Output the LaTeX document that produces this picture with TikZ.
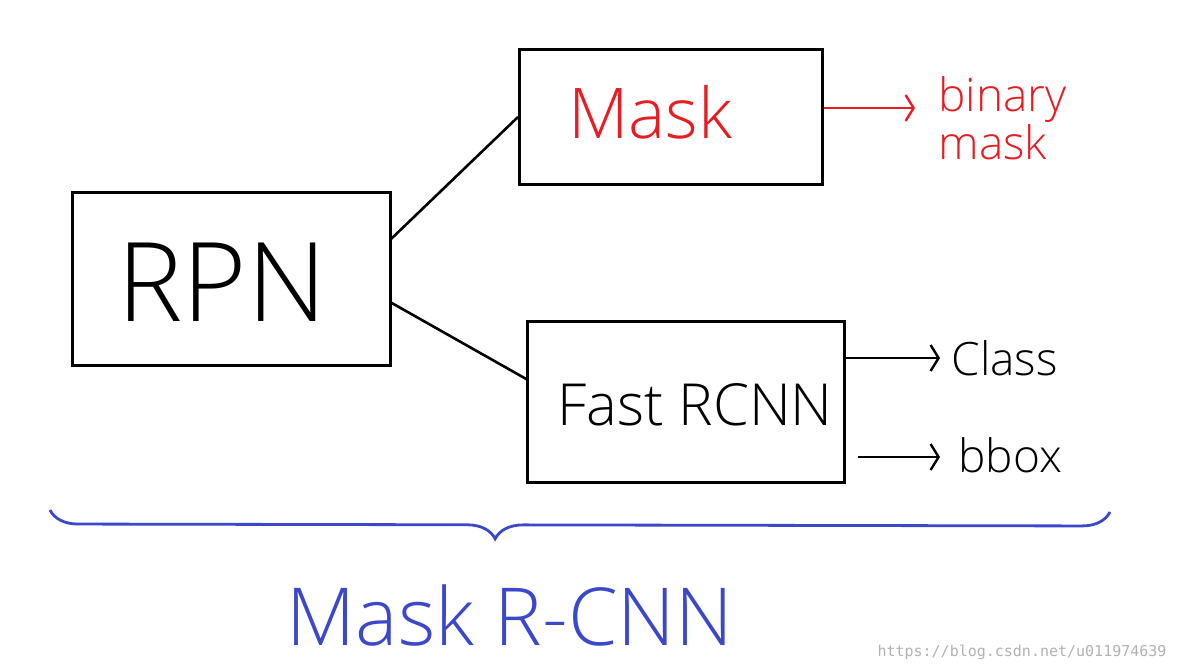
\documentclass[tikz,border=0pt]{standalone}
\usepackage{fontspec}
\setmainfont{Open Sans Light}
\newfontfamily\wm{DejaVu Sans Mono}
\usetikzlibrary{decorations.pathreplacing,arrows.meta}
\definecolor{hred}{RGB}{230,30,36}
\definecolor{hblue}{RGB}{60,72,204}
\begin{document}
\begin{tikzpicture}[x=1pt,y=-1pt,
  box/.style={draw,line width=3pt,inner sep=0pt},
  wire/.style={line width=2.6pt},
  arr/.style={line width=2.4pt,-{Straight Barb[length=8pt,width=26pt]}}]
\useasboundingbox[fill=white] (0,0) rectangle (1192,671);
\node[box,minimum width=318pt,minimum height=172pt] (rpn) at (231,279) {};
\node[font=\fontsize{110}{110}\selectfont] (rpnt) at (222,282) {RPN};
\node[box,minimum width=303pt,minimum height=135pt] (mask) at (671,117) {};
\node[text=hred,font=\fontsize{70}{70}\selectfont] (maskt) at (650,112) {Mask};
\node[box,minimum width=317pt,minimum height=161pt] (fast) at (686,402) {};
\node[font=\fontsize{58}{58}\selectfont] (fastt) at (695,405) {Fast RCNN};
\draw[wire] (390,240) -- (mask.west);
\draw[wire] (390,302) -- (528,380);
\coordinate (b1) at (915,108);
\node[text=hred,font=\fontsize{46}{48}\selectfont,align=left,anchor=west] (bin) at (935,118) {binary\\ mask};
\draw[arr,hred] (mask.east |- b1) -- (b1);
\coordinate (c1) at (940,358);
\coordinate (c0) at (843,358);
\node[font=\fontsize{46}{46}\selectfont,anchor=west] (cls) at (948,358) {Class};
\draw[arr] (c0) -- (c1);
\coordinate (d1) at (940,457);
\coordinate (d0) at (858,457);
\node[font=\fontsize{46}{46}\selectfont,anchor=west] (bb) at (955,455) {bbox};
\draw[arr] (d0) -- (d1);
\coordinate (L) at (50,510);
\coordinate (R) at (1110,512);
\draw[hblue,line width=2.8pt,decorate,decoration={brace,mirror,amplitude=28pt,aspect=0.42}] (L) -- (R);
\node[text=hblue,font=\fontsize{80}{80}\selectfont] (mr) at (510,615) {Mask R-CNN};
\node[text=gray!60,font=\wm\fontsize{15}{15}\selectfont] (w) at (1022,652) {https://blog.csdn.net/u011974639};
\end{tikzpicture}
\end{document}
